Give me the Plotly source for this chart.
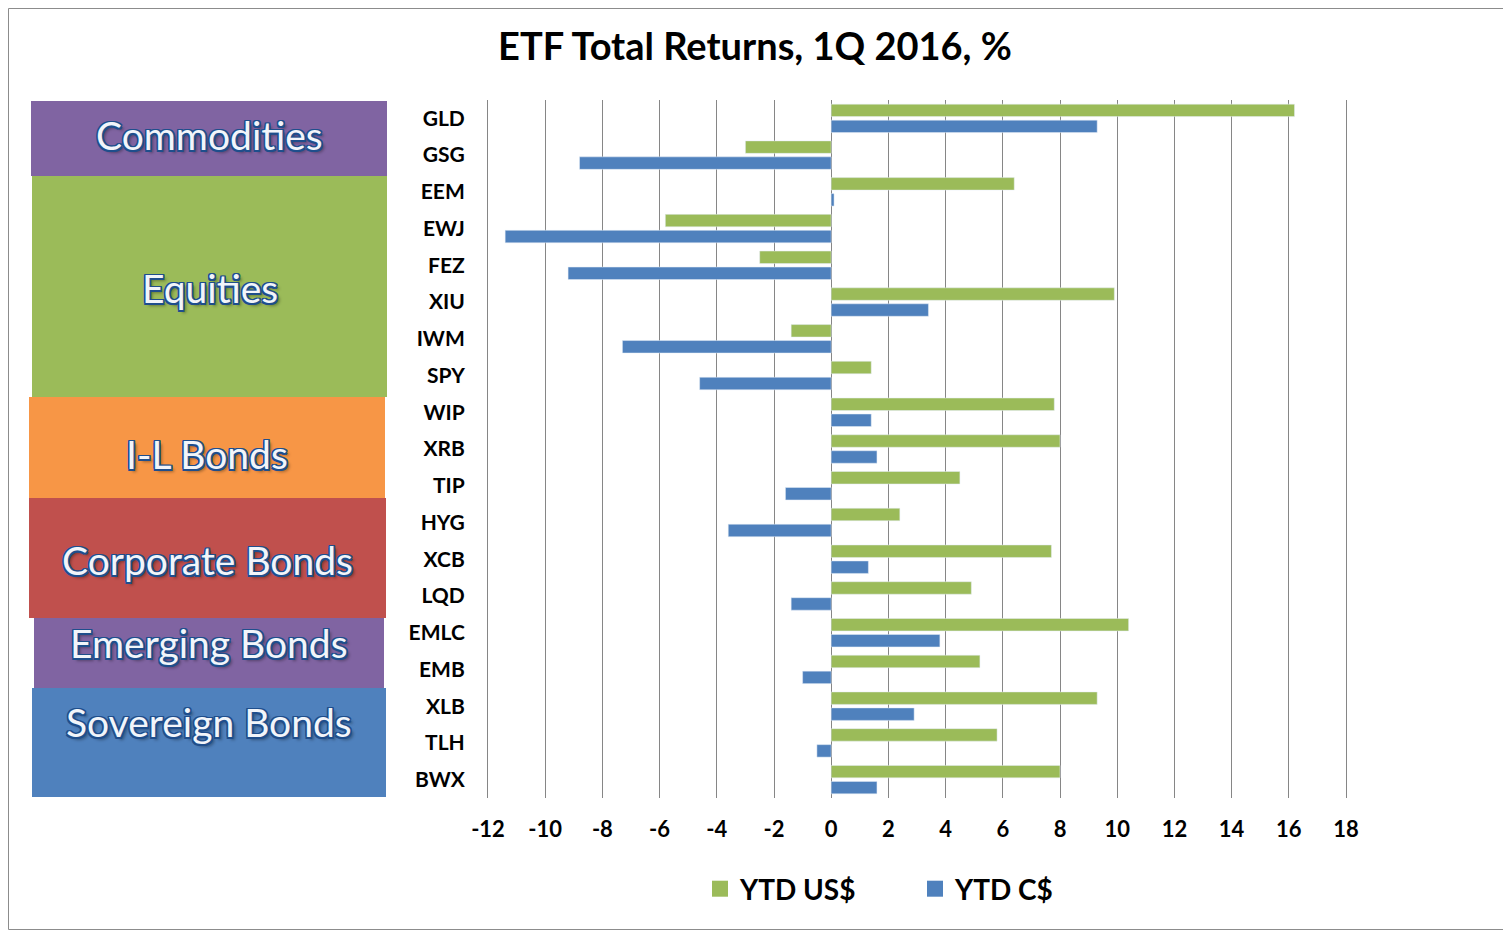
import plotly.graph_objects as go

# ETF tickers, top to bottom
tickers = ["GLD", "GSG", "EEM", "EWJ", "FEZ", "XIU", "IWM", "SPY", "WIP", "XRB",
           "TIP", "HYG", "XCB", "LQD", "EMLC", "EMB", "XLB", "TLH", "BWX"]

# Returns, %
ytd_usd = [16.2, -3.0, 6.4, -5.8, -2.5, 9.9, -1.4, 1.4, 7.8, 8.0,
           4.5, 2.4, 7.7, 4.9, 10.4, 5.2, 9.3, 5.8, 8.0]
ytd_cad = [9.3, -8.8, 0.1, -11.4, -9.2, 3.4, -7.3, -4.6, 1.4, 1.6,
           -1.6, -3.6, 1.3, -1.4, 3.8, -1.0, 2.9, -0.5, 1.6]

x_ticks = list(range(-12, 20, 2))

# Asset class boxes on the left: label, colour
groups = ["Commodities", "Equities", "I-L Bonds", "Corporate Bonds",
          "Emerging Bonds", "Sovereign Bonds"]
group_colors = ["#8064A2", "#9BBB59", "#F79646", "#C0504D", "#8064A2", "#4F81BD"]

GREEN = "#9BBB59"
BLUE = "#4F81BD"

# page body margin pushes the figure by 8px
OFF = 8
W, H = 1511 - OFF, 930 - OFF
# plot area in reference pixels
PL, PR, PT, PB = 488, 1346, 100, 798
PW, PH = PR - PL, PB - PT


def fx(p):
    """Reference pixel x to paper x."""
    return (p - PL) / PW


def fy(p):
    """Reference pixel y to paper y."""
    return 1 - (p - PT) / PH


fig = go.Figure()
fig.add_trace(go.Bar(y=tickers, x=ytd_usd, name="YTD US$", orientation="h",
                     marker_color=GREEN, showlegend=False))
fig.add_trace(go.Bar(y=tickers, x=ytd_cad, name="YTD C$", orientation="h",
                     marker_color=BLUE, showlegend=False))

# legend entries with bigger squares
for name, col in [("YTD US$", GREEN), ("YTD C$", BLUE)]:
    fig.add_trace(go.Scatter(x=[None], y=[None], mode="markers", name=name,
                             marker=dict(symbol="square", size=18, color=col)))

# boxes: (left, top, right, bottom) in reference pixels, label centre y
boxes = [(31, 101, 387, 176, 135),
         (32, 176, 387, 397, 288),
         (29, 397, 385, 498, 454),
         (29, 498, 386, 618, 560),
         (34, 618, 384, 693, 643),
         (32, 688, 386, 797, 722)]

oc = "#1F4E8C"
shadow = ", ".join(f"{dx}px {dy}px 0 {oc}" for dx, dy in
                   [(1.5, 1.5), (-1.5, -1.5), (1.5, -1.5), (-1.5, 1.5),
                    (0, 1.5), (0, -1.5), (1.5, 0), (-1.5, 0)])
shadow += ", 3px 3px 3px rgba(0,0,0,0.35)"

for (x0, y0, x1, y1, ly), label, col in zip(boxes, groups, group_colors):
    fig.add_shape(type="rect", xref="paper", yref="paper",
                  x0=fx(x0), x1=fx(x1), y0=fy(y1), y1=fy(y0),
                  fillcolor=col, line_width=0, layer="below")
    fig.add_annotation(text=label, xref="paper", yref="paper",
                       x=fx((x0 + x1) / 2), y=fy(ly), showarrow=False,
                       xanchor="center", yanchor="middle",
                       font=dict(family="Lato", size=39, color="#F2F5FA",
                                 shadow=shadow))

# outer border
fig.add_shape(type="rect", xref="paper", yref="paper",
              x0=fx(OFF + 0.5), x1=fx(1510.5), y0=fy(929.5), y1=fy(OFF + 0.5),
              line=dict(color="#8C8C8C", width=1), fillcolor="rgba(0,0,0,0)")

fig.update_layout(
    width=W, height=H,
    margin=dict(l=PL - OFF, r=1511 - PR, t=PT - OFF, b=930 - PB),
    paper_bgcolor="white", plot_bgcolor="white",
    barmode="group", bargap=0.13, bargroupgap=0.22,
    title=dict(text="<b>ETF Total Returns, 1Q 2016, %</b>", xref="paper",
               x=fx(755), xanchor="center", yref="container",
               y=1 - (47 - OFF) / H, yanchor="middle",
               font=dict(family="Lato", size=38, color="black")),
    legend=dict(orientation="h", x=fx(700), xanchor="left", y=fy(889), yanchor="middle",
                font=dict(family="Lato", size=28, color="black", weight="bold"),
                itemwidth=30, entrywidth=170, tracegroupgap=0,
                bgcolor="rgba(0,0,0,0)"),
    font=dict(family="Lato", color="black"),
)

fig.update_xaxes(range=[-12, 18], tickvals=x_ticks, ticktext=[str(v) for v in x_ticks],
                 showgrid=True, gridcolor="#868686", gridwidth=1,
                 zeroline=True, zerolinecolor="#868686", zerolinewidth=1,
                 showline=False, ticks="", ticklabelstandoff=16,
                 tickfont=dict(family="Lato", size=22, weight="bold"))
fig.update_yaxes(autorange="reversed", type="category",
                 showgrid=False, showline=True, mirror=True,
                 linecolor="#868686", linewidth=1, ticks="", ticklabelstandoff=18,
                 tickfont=dict(family="Lato", size=21, weight="bold"))

fig.write_html("out.html")
